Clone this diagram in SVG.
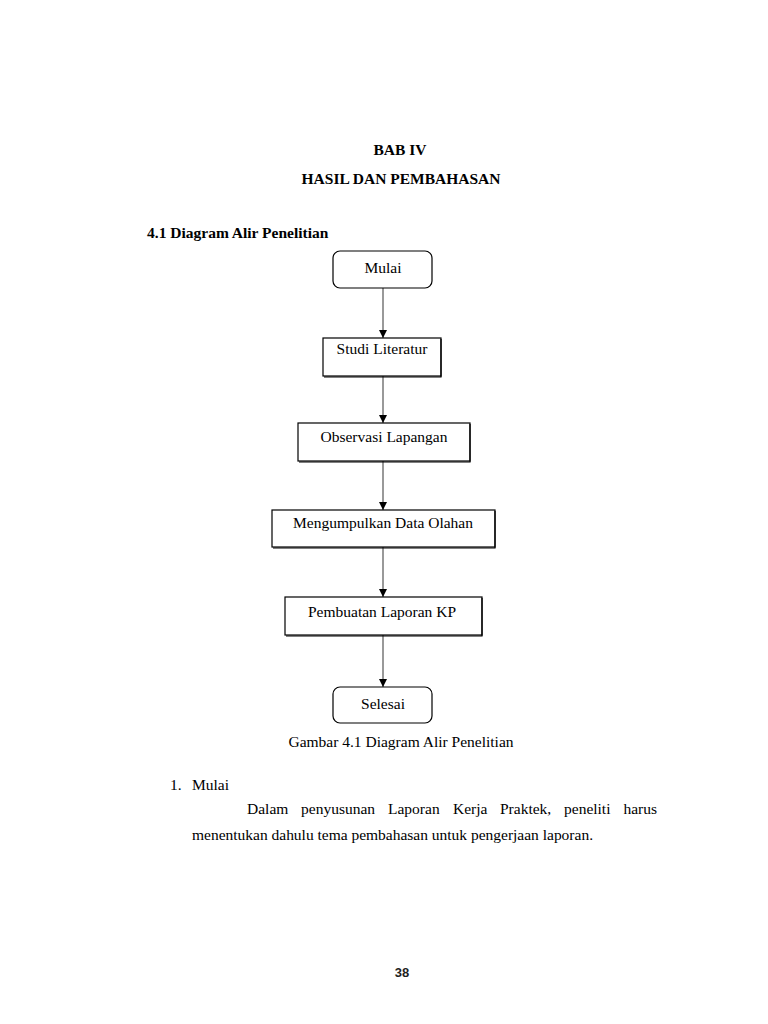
<svg xmlns="http://www.w3.org/2000/svg" width="768" height="1024" viewBox="0 0 768 1024">
<style>
.t{font-family:"Liberation Serif","Times New Roman",serif;font-size:15.5px;fill:#000}
.b{font-weight:bold}
.box{fill:#fff;stroke:#000;stroke-width:1.2}
.sh{fill:none;stroke:#000;stroke-width:1.2}
.ln{stroke:#555;stroke-width:1.2;fill:none}
</style>
<defs>
<marker id="ah" markerWidth="10" markerHeight="10" refX="8" refY="4" orient="auto" markerUnits="userSpaceOnUse">
<path d="M0,0 L8,4 L0,8 Z" fill="#000"/>
</marker>
</defs>
<rect width="768" height="1024" fill="#fff"/>
<text class="t b" x="400" y="155" text-anchor="middle" font-size="18">BAB IV</text>
<text class="t b" x="401" y="184" text-anchor="middle" font-size="18">HASIL DAN PEMBAHASAN</text>
<text class="t b" x="147" y="238" font-size="16">4.1 Diagram Alir Penelitian</text>

<g id="connectors">
<line class="ln" x1="383" y1="288" x2="383" y2="338" marker-end="url(#ah)"/>
<line class="ln" x1="383" y1="376" x2="383" y2="423" marker-end="url(#ah)"/>
<line class="ln" x1="383" y1="461" x2="383" y2="510" marker-end="url(#ah)"/>
<line class="ln" x1="383" y1="547" x2="383" y2="597" marker-end="url(#ah)"/>
<line class="ln" x1="383" y1="635" x2="383" y2="687" marker-end="url(#ah)"/>
</g>

<g id="mulai">
<rect class="box" x="333" y="251" width="99" height="37" rx="7"/>
<text class="t" x="383" y="273" text-anchor="middle">Mulai</text>
</g>
<g id="studi">
<rect class="box" x="323" y="338" width="118" height="38"/>
<polyline class="sh" points="441,339 441,377 324,377"/>
<text class="t" x="382" y="354" text-anchor="middle">Studi Literatur</text>
</g>
<g id="observasi">
<rect class="box" x="298" y="423" width="172" height="38"/>
<polyline class="sh" points="470,424 470,462 299,462"/>
<text class="t" x="384" y="442" text-anchor="middle">Observasi Lapangan</text>
</g>
<g id="mengumpulkan">
<rect class="box" x="272" y="510" width="223" height="37"/>
<polyline class="sh" points="495,511 495,548 273,548"/>
<text class="t" x="383" y="528" text-anchor="middle">Mengumpulkan Data Olahan</text>
</g>
<g id="pembuatan">
<rect class="box" x="285" y="597" width="197" height="38"/>
<polyline class="sh" points="482,598 482,636 286,636"/>
<text class="t" x="382" y="617" text-anchor="middle">Pembuatan Laporan KP</text>
</g>
<g id="selesai">
<rect class="box" x="333" y="687" width="99" height="36" rx="7"/>
<text class="t" x="383" y="709" text-anchor="middle">Selesai</text>
</g>

<text class="t" x="401" y="747" text-anchor="middle">Gambar 4.1 Diagram Alir Penelitian</text>
<text class="t" x="170" y="790">1.</text>
<text class="t" x="192" y="790">Mulai</text>
<text class="t" y="814"><tspan x="247">Dalam</tspan><tspan x="301">penyusunan</tspan><tspan x="388">Laporan</tspan><tspan x="453">Kerja</tspan><tspan x="500">Praktek,</tspan><tspan x="564">peneliti</tspan></text>
<text class="t" x="657" y="814" text-anchor="end">harus</text>
<text class="t" x="192" y="840" textLength="401" lengthAdjust="spacing">menentukan dahulu tema pembahasan untuk pengerjaan laporan.</text>
<text x="402" y="977" text-anchor="middle" font-family="'Liberation Sans','DejaVu Sans',sans-serif" font-size="13" font-weight="bold" fill="#222">38</text>
</svg>
